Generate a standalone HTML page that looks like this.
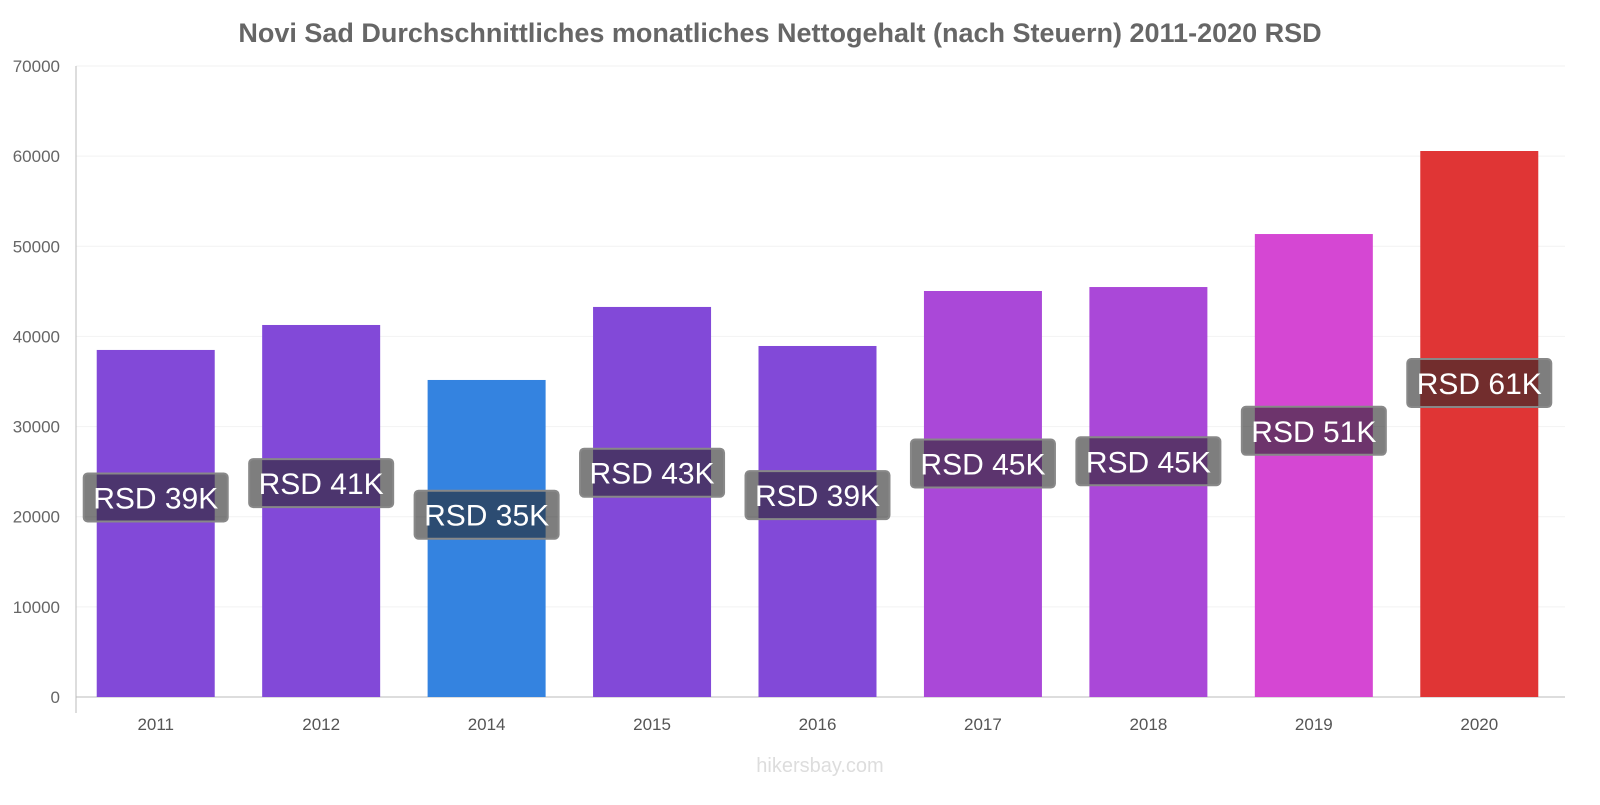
<!DOCTYPE html>
<html><head><meta charset="utf-8"><style>
body{margin:0;background:#fff;font-family:"Liberation Sans",sans-serif}
</style></head><body>
<svg width="1600" height="800" xmlns="http://www.w3.org/2000/svg">
<text x="780" y="42" text-anchor="middle" font-size="27" font-weight="bold" fill="#666">Novi Sad Durchschnittliches monatliches Nettogehalt (nach Steuern) 2011-2020 RSD</text>
<g id="grid"></g><g id="bars"></g><g id="labels"></g>
<text x="820" y="772" text-anchor="middle" font-size="20" fill="#ddd">hikersbay.com</text>
</svg>
<script>
const categories=["2011","2012","2014","2015","2016","2017","2018","2019","2020"];
const values=[38500,41270,35170,43270,38940,45040,45480,51360,60570];
const valueLabels=["RSD 39K","RSD 41K","RSD 35K","RSD 43K","RSD 39K","RSD 45K","RSD 45K","RSD 51K","RSD 61K"];
const colors=["#8249d8","#8249d8","#3483e0","#8249d8","#8249d8","#aa48d8","#aa48d8","#d547d3","#e03535"];
const yTicks=[0,10000,20000,30000,40000,50000,60000,70000];
const NS="http://www.w3.org/2000/svg";
const y0=697,yTop=66,yMax=70000,x0=76,x1=1565;
const y=v=>y0-(v/yMax)*(y0-yTop);
const step=(x1-x0)/categories.length;
const xc=i=>x0+step*(i+0.5)-3;
function mk(tag,attrs,parent,txt){const e=document.createElementNS(NS,tag);for(const k in attrs)e.setAttribute(k,attrs[k]);if(txt!==undefined)e.textContent=txt;parent.appendChild(e);return e;}
const g=document.getElementById('grid'),b=document.getElementById('bars'),l=document.getElementById('labels');
yTicks.forEach(t=>{
 const ln=mk('line',{x1:x0,x2:x1,y1:y(t),y2:y(t),stroke:t===0?'#bbb':'#f2f2f2'},g);
 
 
 const tx=mk('text',{x:60,y:y(t)+6,'text-anchor':'end','font-size':17,fill:'#666'},g,String(t));
 
 
});
const ax=mk('line',{x1:x0,x2:x0,y1:yTop,y2:y0+16,stroke:'#bbb'},g);


categories.forEach((c,i)=>{
 const bw=118,cx=xc(i);
 const r=mk('rect',{x:cx-bw/2,y:y(values[i]),width:bw,height:y0-y(values[i]),fill:colors[i]},b);
 
 
 const tx=mk('text',{x:cx,y:730,'text-anchor':'middle','font-size':17,fill:'#555'},g,c);
 
 
 const ly=y(values[i]*0.575);
 const box=mk('rect',{x:cx-72,y:ly-24,width:144,height:48,rx:4,fill:'rgba(40,40,40,0.6)',stroke:'#888','stroke-width':2},l);
 
 
 const vt=mk('text',{x:cx,y:ly+11,'text-anchor':'middle','font-size':30,fill:'#fff'},l,valueLabels[i]);
 
 
});
</script>
</body></html>
